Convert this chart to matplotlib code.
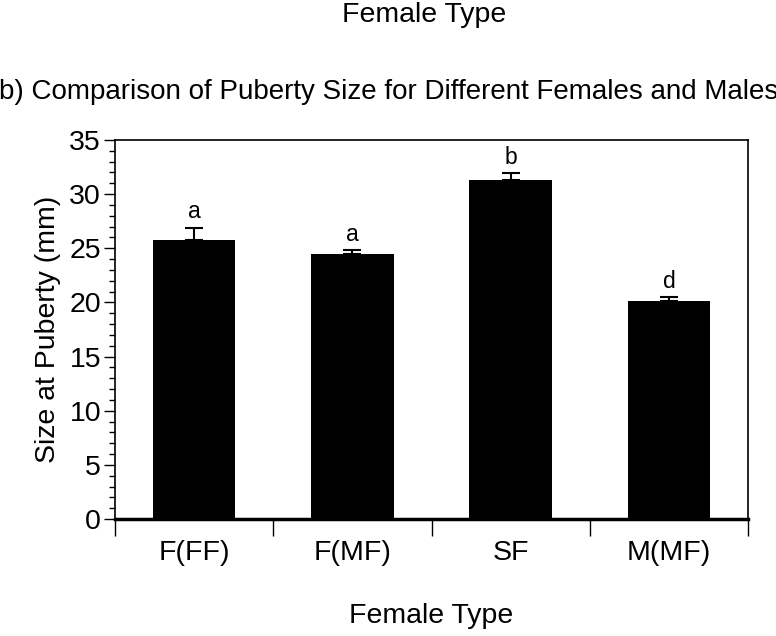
import matplotlib
matplotlib.use('Agg')
import matplotlib.pyplot as plt
import numpy as np
from matplotlib.ticker import MultipleLocator

plt.rcParams['font.family'] = ['Liberation Sans', 'DejaVu Sans']

# data
categories = ['F(FF)', 'F(MF)', 'SF', 'M(MF)']
sizes = [25.8, 24.5, 31.3, 20.1]
errors = [1.1, 0.35, 0.65, 0.4]
letters = ['a', 'a', 'b', 'd']

fig = plt.figure(figsize=(7.76, 6.36), dpi=100)
ax = fig.add_axes([115/776, 117/636, 633/776, 379/636])

x = np.arange(len(categories)) + 0.5
ax.bar(x, sizes, width=0.52, color='black', zorder=2)
ax.errorbar(x, sizes, yerr=[np.zeros(len(errors)), errors], fmt='none',
            ecolor='black', elinewidth=1.5, capsize=6.5, capthick=1.5, zorder=3)

for xi, s, e, l in zip(x, sizes, errors, letters):
    ax.text(xi, s + e + 0.4, l, ha='center', va='bottom', fontsize=16.5)

ax.set_xlim(0, len(categories))
ax.set_ylim(0, 35)

ax.set_xticks(np.arange(len(categories) + 1))
ax.set_xticklabels([])
ax.set_xticks(x, minor=True)
ax.set_xticklabels(categories, minor=True)
ax.tick_params(axis='x', which='major', direction='out', length=12, width=1)
ax.tick_params(axis='x', which='minor', length=0, pad=15, labelsize=20.5)

ax.yaxis.set_major_locator(MultipleLocator(5))
ax.yaxis.set_minor_locator(MultipleLocator(1))
ax.tick_params(axis='y', which='major', direction='out', length=8, width=1, labelsize=20.5, pad=2)
ax.tick_params(axis='y', which='minor', direction='out', length=4, width=1)

for side in ['top', 'right', 'left']:
    ax.spines[side].set_linewidth(1.2)
ax.spines['bottom'].set_linewidth(2.5)

ax.set_ylabel('Size at Puberty (mm)', fontsize=20.5, labelpad=6)
ax.set_xlabel('Female Type', fontsize=20.5, labelpad=27)

# the reference crops this title at both edges of the image
fig.text(389/776, 1 - 92/636, 'b) Comparison of Puberty Size for Different Females and Males',
         ha='center', va='center', fontsize=20)
fig.text(424/776, 1 - 15/636, 'Female Type', ha='center', va='center', fontsize=20.5)

fig.savefig('out.png', dpi=100)
